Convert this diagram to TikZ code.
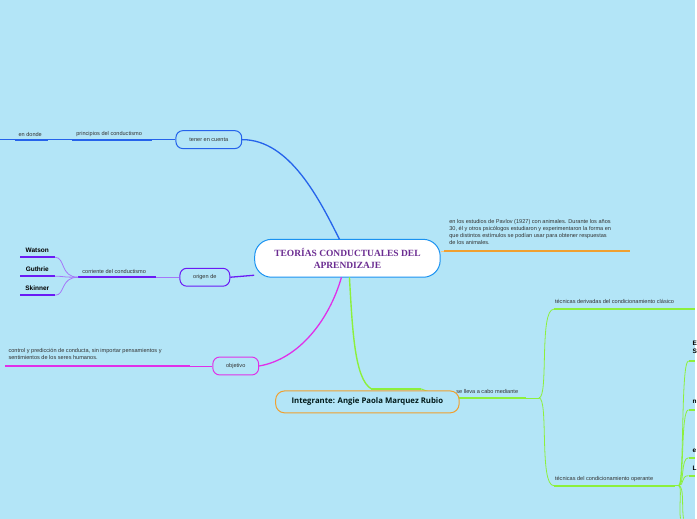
\documentclass[tikz,border=0pt]{standalone}
\usepackage{fontspec}
\setmainfont{Liberation Serif}
\newfontfamily\sans{Liberation Sans}
\newfontfamily\opens{Open Sans}
\begin{document}
\begin{tikzpicture}[x=1pt,y=-1pt,
  lbl/.style={font=\sans\fontsize{5.6}{7}\selectfont,inner sep=1pt,anchor=south west,text=black!80},
  pill/.style={draw,rounded corners=7pt,line width=1pt,minimum height=18pt,font=\sans\fontsize{5.6}{7}\selectfont,text=black!80},
  ul/.style={line width=2pt},
  thin/.style={line width=0.8pt}]
\definecolor{bg}{HTML}{B3E5F7}
\definecolor{cb}{HTML}{2563EB}
\definecolor{cv}{HTML}{6A1BF5}
\definecolor{cmag}{HTML}{E030E8}
\definecolor{cg}{HTML}{8CF03C}
\definecolor{co}{HTML}{F0A030}
\definecolor{tt}{HTML}{6B2C91}
\fill[bg] (0,0) rectangle (697,520);
% center
\node[draw=cb!70!cyan,fill=white,rounded corners=17pt,line width=1pt,minimum width=186pt,minimum height=38pt,align=center,text=tt,font=\bfseries\fontsize{9.5}{12}\selectfont] (c) at (348,259) {TEORÍAS CONDUCTUALES DEL\\APRENDIZAJE};
% tener en cuenta
\node[pill,draw=cb,fill=bg,minimum width=66pt] (t) at (209,140) {tener en cuenta};
\draw[cb,line width=1.3pt] (t.east) .. controls (290,140) and (320,200) .. (340,240);
\coordinate (t1) at (72,140); \coordinate (t2) at (152,140);
\draw[cb,thin] (t.west) -- (t2); \draw[cb,ul] (t1) -- (t2);
\node[lbl] at (75,138) {principios del conductismo};
\draw[cb,thin] (t1) -- (48,140); \draw[cb,ul] (15,140) -- (48,140);
\draw[cb,thin] (15,140) -- (0,140);
\node[lbl] at (17,138) {en donde};
% origen de
\node[pill,draw=cv,fill=bg,minimum width=50pt] (o) at (205,278) {origen de};
\draw[cv,line width=1.3pt] (o.east) -- (c.west|-0,276) ;
\coordinate (o1) at (78,278); \coordinate (o2) at (156,278);
\draw[cv!60,thin] (o.west) -- (o2); \draw[cv,ul] (o1) -- (o2);
\node[lbl] at (81,276) {corriente del conductismo};
\foreach \n/\y in {Watson/258,Guthrie/277,Skinner/296}{
  \draw[cv,ul] (20,\y) -- (55,\y);
  \draw[cv!60,thin] (55,\y) .. controls (65,\y) and (60,278) .. (o1);
  \node[font=\sans\bfseries\fontsize{6.5}{7}\selectfont,anchor=south] at (37,\y-1) {\n};}
% objetivo
\node[pill,draw=cmag,fill=bg,minimum width=46pt] (ob) at (236,367) {objetivo};
\draw[cmag,line width=1.3pt] (ob.east) .. controls (300,360) and (330,320) .. (342,278);
\draw[cmag,ul] (5,367) -- (190,367); \draw[cmag,thin] (190,367) -- (ob.west);
\node[lbl,align=left,anchor=north west] at (7,348) {control y predicción de conducta, sin importar pensamientos y\\sentimientos de los seres humanos.};
% pavlov
\draw[co!60!white,thin] (c.east|-0,252) -- (445,252);
\draw[co,ul] (445,252) -- (631,252);
\node[lbl,align=left,anchor=north west] at (449,219) {en los estudios de Pavlov (1927) con animales. Durante los años\\30, él y otros psicólogos estudiaron y experimentaron la forma en\\que distintos estímulos se podían usar para obtener respuestas\\de los animales.};
% green branch
\coordinate (g0) at (372,390);
\draw[cg,line width=1.4pt] (350,278) .. controls (353,330) and (355,380) .. (g0);
\draw[cg,ul] (372,390) -- (422,390);
\draw[cg,line width=1pt] (422,390) .. controls (440,397) .. (455,398);
\draw[cg,ul] (455,399) -- (527,399);
\node[lbl] at (456,396) {se lleva a cabo mediante};
\coordinate (s) at (540,399);
\draw[cg,thin] (527,399) -- (s);
\draw[cg,thin] (s) .. controls (550,399) and (540,310) .. (555,310);
\draw[cg,thin] (s) .. controls (550,399) and (540,487) .. (555,487);
\draw[cg,ul] (555,310) -- (697,310);
\node[lbl] at (555,306) {técnicas derivadas del condicionamiento clásico};
\draw[cg,ul] (555,487) -- (676,487);
\node[lbl] at (555,484) {técnicas del condicionamiento operante};
\coordinate (s2) at (680,487);
\draw[cg,thin] (676,487) -- (s2);
\foreach \y in {362,411,459,477}{
  \draw[cg,thin] (s2) .. controls (686,487) and (682,\y) .. (690,\y);
  \draw[cg,ul] (690,\y) -- (697,\y);}
\draw[cg,thin] (s2) .. controls (686,487) and (683,510) .. (685,520);
\draw[cg,thin] (s2) .. controls (684,487) and (680,510) .. (682,520);
\node[font=\sans\bfseries\fontsize{6.5}{8}\selectfont,anchor=north west,inner sep=0,align=left] at (694,342) {E\\S};
\node[font=\sans\bfseries\fontsize{6.5}{7}\selectfont,anchor=north west,inner sep=0] at (694,401) {n};
\node[font=\sans\bfseries\fontsize{6.5}{7}\selectfont,anchor=north west,inner sep=0] at (694,450) {e};
\node[font=\sans\bfseries\fontsize{6.5}{7}\selectfont,anchor=north west,inner sep=0] at (694,467) {L};
% integrante
\node[draw=co,fill=bg,rounded corners=9pt,line width=1pt,minimum width=184pt,minimum height=22pt,font=\opens\bfseries\fontsize{7.8}{9}\selectfont,text=black!80!teal] (i) at (368,403) {Integrante: Angie Paola Marquez Rubio};
\useasboundingbox (0,0) rectangle (697,520);
\end{tikzpicture}
\end{document}
